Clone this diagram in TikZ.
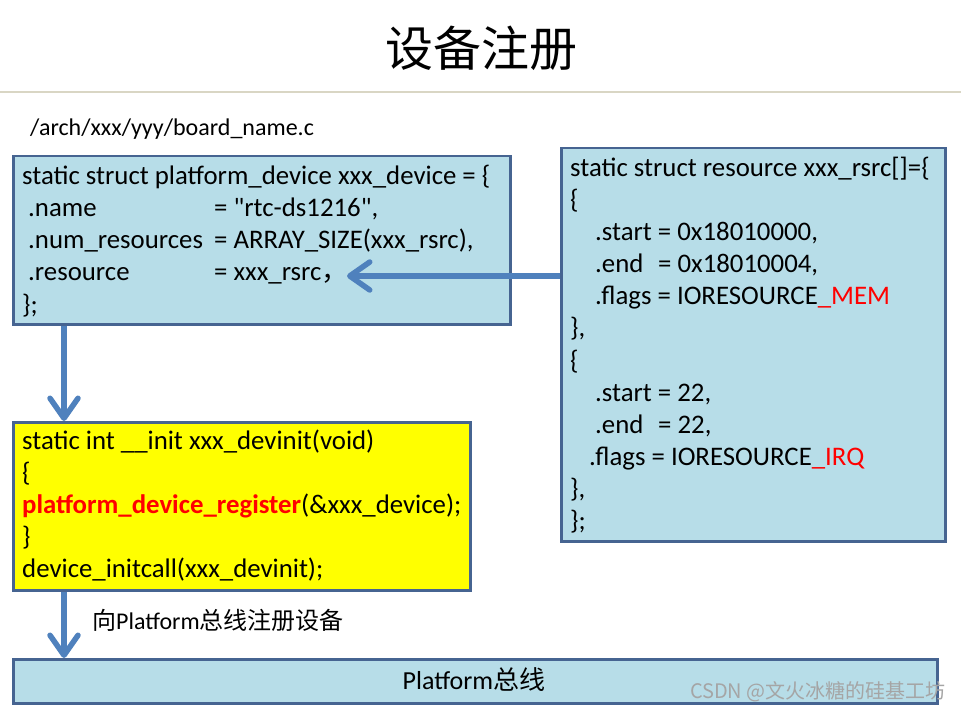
\documentclass[tikz,border=0pt]{standalone}
\usepackage{fontspec}
\setmainfont{Carlito}
\newfontfamily\rawcal{Carlito}
\newfontfamily\cjk{Noto Sans CJK SC}
\usetikzlibrary{arrows.meta}
\definecolor{boxfill}{RGB}{183,221,232}
\definecolor{boxline}{RGB}{70,100,145}
\definecolor{arrowc}{RGB}{79,129,189}
\definecolor{rulec}{RGB}{217,214,196}
\definecolor{wmgray}{RGB}{165,165,165}
\definecolor{pureyellow}{RGB}{255,255,0}
\begin{document}
\begin{tikzpicture}[x=1pt,y=-1pt,
  codebox/.style={draw=boxline, line width=2.5pt, fill=boxfill, anchor=north west, inner sep=0pt, rectangle},
  codeline/.style={anchor=base west, inner sep=0pt, font=\fontsize{26.8}{32}\selectfont},
  flow/.style={draw=arrowc, line width=5.5pt, -{Straight Barb[length=20pt,width=28pt,round]}},
]
\useasboundingbox[fill=white] (0,0) rectangle (961,711);

% title and rule
\node[anchor=base, inner sep=0pt, font=\fontsize{48}{56}\selectfont\cjk] (title) at (481,67) {设备注册};
\coordinate (ruleL) at (0,92);
\coordinate (ruleR) at (961,92);
\draw[rulec, line width=1.5pt] (ruleL) -- (ruleR);

\node[anchor=base west, inner sep=0pt, font=\fontsize{24}{28}\selectfont] (path) at (30,136) {/arch/xxx/yyy/board\_name.c};

% boxes
\node[codebox, minimum width=497pt, minimum height=168pt] (devbox) at (12,155) {};
\node[codebox, minimum width=384pt, minimum height=393pt] (srcbox) at (560,147) {};
\node[codebox, fill=pureyellow, minimum width=457pt, minimum height=168pt] (initbox) at (12,421) {};
\node[codebox, minimum width=924pt, minimum height=44pt] (busbox) at (12,658) {};

% device box text
\node[codeline] (d1) at (22,185) {static struct platform\_device xxx\_device = \{};
\node[codeline] (d2) at (22,217) {\hspace*{6pt}\makebox[186pt][l]{.name}= {\rawcal "rtc-ds1216"},};
\node[codeline] (d3) at (22,249) {\hspace*{6pt}\makebox[186pt][l]{.num\_resources}= ARRAY\_SIZE(xxx\_rsrc),};
\node[codeline] (d4) at (22,281) {\hspace*{6pt}\makebox[186pt][l]{.resource}= xxx\_rsrc{\cjk ，}};
\node[codeline] (d5) at (22,313) {\};};

% resource box text
\node[codeline] (r1) at (570,177) {static struct resource xxx\_rsrc[]=\{};
\node[codeline] (r2) at (570,209) {\{};
\node[codeline] (r3) at (595,241) {.start = 0x18010000,};
\node[codeline] (r4) at (595,273) {\makebox[63pt][l]{.end}= 0x18010004,};
\node[codeline] (r5) at (595,305) {.flags = IORESOURCE\textcolor{red}{\_MEM}};
\node[codeline] (r6) at (570,337) {\},};
\node[codeline] (r7) at (570,369) {\{};
\node[codeline] (r8) at (595,401) {.start = 22,};
\node[codeline] (r9) at (595,433) {\makebox[63pt][l]{.end}= 22,};
\node[codeline] (r10) at (589,465) {.flags = IORESOURCE\textcolor{red}{\_IRQ}};
\node[codeline] (r11) at (570,497) {\},};
\node[codeline] (r12) at (570,529) {\};};

% init box text
\node[codeline] (i1) at (22,449) {static int \_\_init xxx\_devinit(void)};
\node[codeline] (i2) at (22,481) {\{};
\node[codeline] (i3) at (22,513) {\textcolor{red}{\bfseries platform\_device\_register}(\&xxx\_device);};
\node[codeline] (i4) at (22,545) {\}};
\node[codeline] (i5) at (22,577) {device\_initcall(xxx\_devinit);};

% arrows
\coordinate (tipR) at (347,276);
\coordinate (colA) at (64,0);
\draw[flow] (srcbox.west |- tipR) -- (tipR);
\draw[flow] (devbox.south -| colA) -- (initbox.north -| colA);
\draw[flow] (initbox.south -| colA) -- (busbox.north -| colA);

\node[anchor=base west, inner sep=0pt, font=\fontsize{24}{30}\selectfont] (lbl) at (92,629) {{\cjk 向}Platform{\cjk 总线注册设备}};
\node[anchor=base, inner sep=0pt, font=\fontsize{26}{30}\selectfont] (bustxt) at (474,689) {Platform{\cjk 总线}};

\node[anchor=base east, inner sep=0pt, text=wmgray, font=\fontsize{20}{24}\selectfont\cjk] (wmark) at (946,698) {CSDN @文火冰糖的硅基工坊};
\end{tikzpicture}
\end{document}
